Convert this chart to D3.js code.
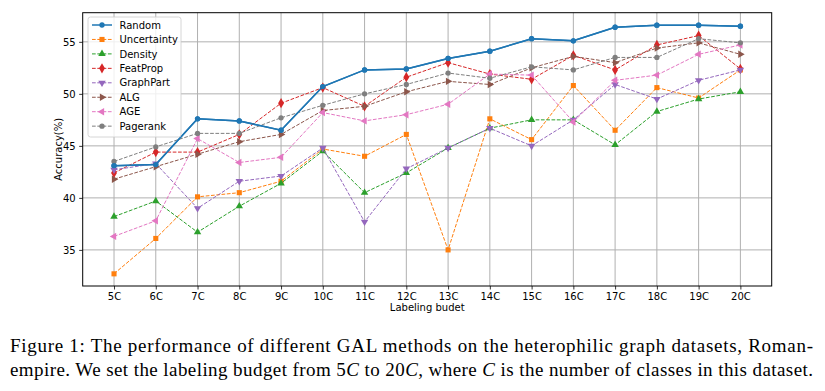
<!DOCTYPE html>
<html><head><meta charset="utf-8">
<script src="https://cdn.jsdelivr.net/npm/d3@7/dist/d3.min.js"></script>
<style>body{margin:0;background:#fff}svg{display:block}
.cap{font-family:'Liberation Serif','Times New Roman',Times,serif;}
.mpl{font-family:'DejaVu Sans',sans-serif;}</style>
</head><body>
<svg id="chart" width="825" height="391"></svg>
<script>
const categories = ["5C","6C","7C","8C","9C","10C","11C","12C","13C","14C","15C","16C","17C","18C","19C","20C"];
const seriesNames = ["Random","Uncertainty","Density","FeatProp","GraphPart","ALG","AGE","Pagerank"];
const random      = [43.1,43.2,47.6,47.4,46.5,50.7,52.3,52.4,53.4,54.1,55.3,55.1,56.4,56.6,56.6,56.5];
const uncertainty = [32.7,36.1,40.1,40.5,41.6,44.7,44.0,46.1,35.0,47.6,45.6,50.8,46.5,50.6,49.6,52.3];
const density     = [38.2,39.7,36.7,39.2,41.4,44.5,40.5,42.4,44.8,46.7,47.5,47.5,45.1,48.3,49.5,50.2];
const featprop    = [42.4,44.4,44.4,46.1,49.1,50.6,48.8,51.6,53.0,51.9,51.4,53.7,52.3,54.7,55.6,52.4];
const graphpart   = [42.7,43.3,39.0,41.6,42.1,44.8,37.7,42.8,44.8,46.7,45.0,47.5,50.9,49.5,51.3,52.3];
const alg         = [41.8,43.0,44.2,45.4,46.1,48.4,48.8,50.2,51.2,50.9,52.5,53.6,53.0,54.4,54.9,53.8];
const age         = [36.3,37.8,45.7,43.4,43.9,48.2,47.4,48.0,49.0,51.9,51.8,47.3,51.3,51.8,53.8,54.7];
const pagerank    = [43.5,44.9,46.2,46.2,47.7,48.9,50.0,50.9,52.0,51.5,52.6,52.3,53.5,53.5,55.3,54.9];
const yTicks = [35,40,45,50,55];
const colors = ["#1f77b4","#ff7f0e","#2ca02c","#d62728","#9467bd","#8c564b","#e377c2","#7f7f7f"];
const markers = ["circle","square","triUp","diamond","triDown","triRight","triLeft","circle"];
const allSeries = [random,uncertainty,density,featprop,graphpart,alg,age,pagerank];

const svg = d3.select("#chart");
const L = 82.7, R = 771.7, T = 12.7, B = 286;
const x = d3.scaleLinear().domain([-0.75, categories.length - 1 + 0.75]).range([L, R]);
const y = d3.scaleLinear().domain([31.53, 57.8]).range([B, T]);

// grid
const g = svg.append("g");
g.selectAll(".vg").data(categories).enter().append("line")
  .attr("x1",(d,i)=>x(i)).attr("x2",(d,i)=>x(i)).attr("y1",T).attr("y2",B)
  .attr("stroke","#b0b0b0").attr("stroke-width",1);
g.selectAll(".hg").data(yTicks).enter().append("line")
  .attr("x1",L).attr("x2",R).attr("y1",d=>y(d)).attr("y2",d=>y(d))
  .attr("stroke","#b0b0b0").attr("stroke-width",1);

// axes
const xAxis = d3.axisBottom(x).tickValues(d3.range(categories.length)).tickFormat(i=>categories[i]).tickSize(3.5).tickPadding(3);
const yAxis = d3.axisLeft(y).tickValues(yTicks).tickSize(3.5).tickPadding(3.5);
const gx = svg.append("g").attr("transform",`translate(0,${B})`).call(xAxis);
const gy = svg.append("g").attr("transform",`translate(${L},0)`).call(yAxis);
[gx,gy].forEach(a=>{
  a.attr("font-family",null);
  a.select(".domain").remove();
  a.selectAll("text").attr("class","mpl").attr("font-size",10).attr("fill","#000");
  a.selectAll("line").attr("stroke","#000").attr("stroke-width",0.8);
});

const sym = {
  circle: d3.symbol().type(d3.symbolCircle).size(22),
  square: d3.symbol().type(d3.symbolSquare).size(26),
  diamond: d3.symbol().type(d3.symbolDiamond).size(30),
  tri: d3.symbol().type(d3.symbolTriangle).size(24)
};
function drawMarker(sel, type, cx, cy, color){
  let p;
  if(type==="circle") p = sel.append("path").attr("d",sym.circle());
  else if(type==="square") p = sel.append("path").attr("d",sym.square());
  else if(type==="diamond") p = sel.append("path").attr("d",sym.diamond());
  else {
    const rot = {triUp:0, triDown:180, triRight:90, triLeft:-90}[type];
    return sel.append("path").attr("d",sym.tri())
      .attr("transform",`translate(${cx},${cy}) rotate(${rot})`).attr("fill",color);
  }
  return p.attr("transform",`translate(${cx},${cy})`).attr("fill",color);
}

// lines
const plot = svg.append("g");
const line = d3.line().x((d,i)=>x(i)).y(d=>y(d));
allSeries.forEach((vals,k)=>{
  const gg = plot.append("g");
  gg.append("path").datum(vals).attr("d",line).attr("fill","none")
    .attr("stroke",colors[k]).attr("stroke-width",k===0?1.5:1)
    .attr("stroke-dasharray",k===0?null:"3.7,1.6");
  vals.forEach((v,i)=>drawMarker(gg, markers[k], x(i), y(v), colors[k]));
});
(function(){
  const gg = plot.append("g");
  gg.append("path").datum(random).attr("d",line).attr("fill","none")
    .attr("stroke",colors[0]).attr("stroke-width",1.5);
  random.forEach((v,i)=>drawMarker(gg,"circle",x(i),y(v),colors[0]));
})();

// spines
svg.append("rect").attr("x",L).attr("y",T).attr("width",R-L).attr("height",B-T)
  .attr("fill","none").attr("stroke","#000").attr("stroke-width",1);

// axis labels
svg.append("text").attr("class","mpl").attr("x",(L+R)/2).attr("y",311).attr("text-anchor","middle")
  .attr("font-size",10).text("Labeling budet");
svg.append("text").attr("class","mpl").attr("transform",`translate(62,${(T+B)/2}) rotate(-90)`).attr("text-anchor","middle")
  .attr("font-size",10).text("Accuracy(%)");

// legend
const lg = svg.append("g");
lg.append("rect").attr("x",88).attr("y",17).attr("width",93).attr("height",120).attr("rx",2.5)
  .attr("fill","#fff").attr("fill-opacity",0.8).attr("stroke","#cccccc").attr("stroke-width",0.8);
seriesNames.forEach((name,k)=>{
  const yy = 25 + k*14.45;
  lg.append("line").attr("x1",92).attr("x2",112).attr("y1",yy).attr("y2",yy)
    .attr("stroke",colors[k]).attr("stroke-width",k===0?1.5:1)
    .attr("stroke-dasharray",k===0?null:"3.7,1.6");
  drawMarker(lg, markers[k], 102, yy, colors[k]);
  lg.append("text").attr("class","mpl").attr("x",119.5).attr("y",yy+3.6).attr("font-size",10)
    .attr("fill","#000").text(name);
});

// caption
const c1 = svg.append("text").attr("class","cap").attr("x",10).attr("y",352).attr("font-size",19)
  .attr("textLength",803).attr("lengthAdjust","spacing")
  .text("Figure 1: The performance of different GAL methods on the heterophilic graph datasets, Roman-");
const c2 = svg.append("text").attr("class","cap").attr("x",10).attr("y",375.5).attr("font-size",19)
  .attr("textLength",803).attr("lengthAdjust","spacing");
c2.append("tspan").text("empire. We set the labeling budget from 5");
c2.append("tspan").attr("font-style","italic").text("C");
c2.append("tspan").text(" to 20");
c2.append("tspan").attr("font-style","italic").text("C");
c2.append("tspan").text(", where ");
c2.append("tspan").attr("font-style","italic").text("C");
c2.append("tspan").text(" is the number of classes in this dataset.");
</script>
</body></html>
